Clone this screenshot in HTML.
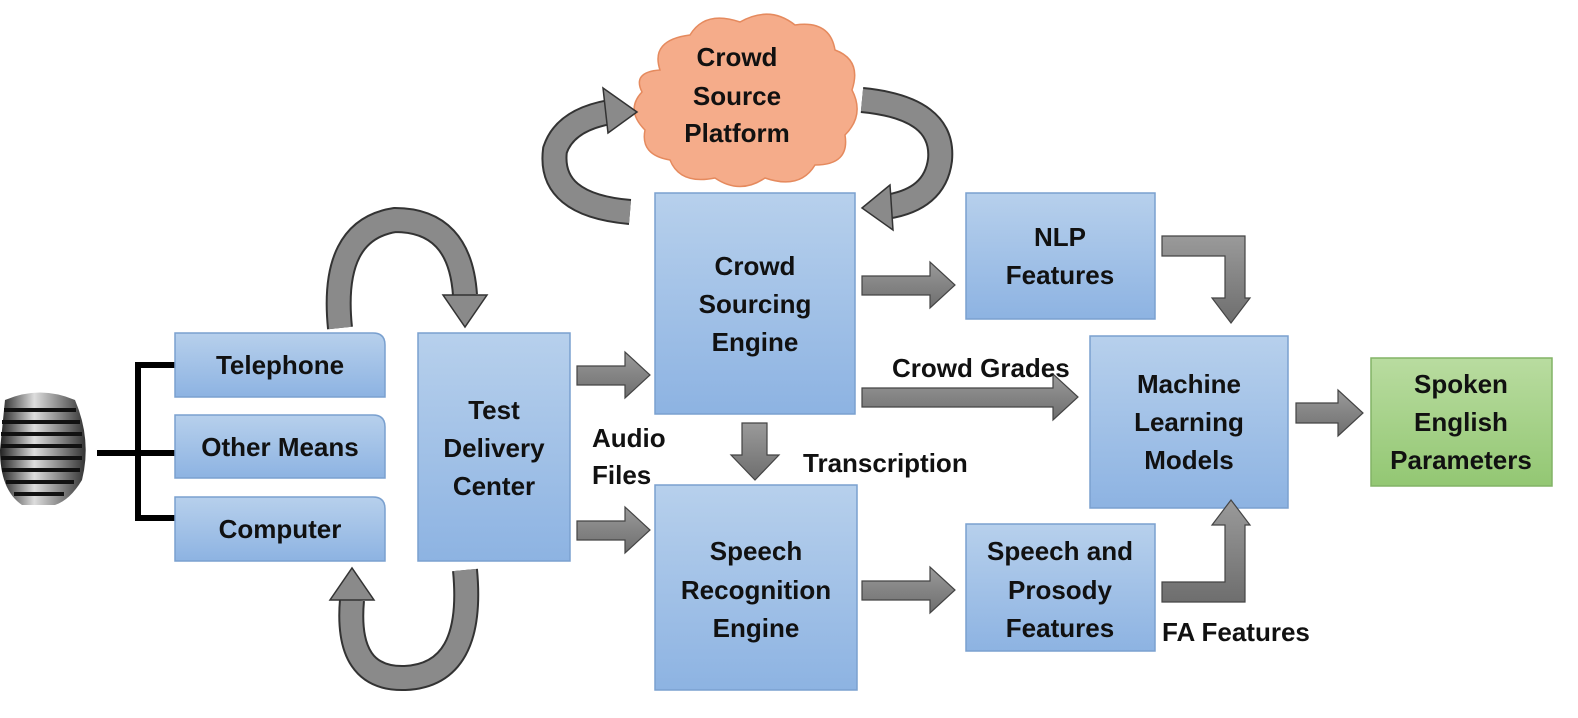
<!DOCTYPE html>
<html><head><meta charset="utf-8"><style>
body{margin:0;background:#fff;}
svg{display:block;}
text{font-family:"Liberation Sans",sans-serif;font-weight:bold;font-size:26px;fill:#111;}
</style></head><body>
<svg width="1578" height="718" viewBox="0 0 1578 718" xmlns="http://www.w3.org/2000/svg">
<defs>
<linearGradient id="bl" x1="0" y1="0" x2="0" y2="1"><stop offset="0" stop-color="#b7d0ec"/><stop offset="1" stop-color="#8db3e2"/></linearGradient>
<linearGradient id="gr" x1="0" y1="0" x2="0" y2="1"><stop offset="0" stop-color="#b9dca0"/><stop offset="1" stop-color="#93c773"/></linearGradient>
<linearGradient id="ar" x1="0" y1="0" x2="0" y2="1"><stop offset="0" stop-color="#9a9a9a"/><stop offset="1" stop-color="#6e6e6e"/></linearGradient>
<linearGradient id="mic" x1="0" y1="0" x2="1" y2="0"><stop offset="0" stop-color="#222"/><stop offset=".4" stop-color="#ddd"/><stop offset="1" stop-color="#333"/></linearGradient>
</defs>

<path d="M5 400 Q40 385 75 400 Q92 440 82 480 Q70 500 55 505 L22 505 Q0 490 0 450 Z" fill="url(#mic)"/>
<g stroke="#111" stroke-width="4">
<line x1="4" y1="410" x2="76" y2="410"/><line x1="2" y1="422" x2="80" y2="422"/><line x1="1" y1="434" x2="82" y2="434"/>
<line x1="1" y1="446" x2="82" y2="446"/><line x1="1" y1="458" x2="82" y2="458"/><line x1="2" y1="470" x2="80" y2="470"/>
<line x1="6" y1="482" x2="74" y2="482"/><line x1="14" y1="494" x2="64" y2="494"/></g>

<g stroke="#000" stroke-width="6" fill="none">
<line x1="97" y1="453" x2="178" y2="453"/>
<polyline points="178,365 138,365 138,518 178,518"/>
</g>

<g stroke="#7aa0cf" stroke-width="1.5" fill="url(#bl)">
<path d="M175 333 H373 Q385 333 385 345 V397 H175 Z"/>
<path d="M175 415 H373 Q385 415 385 427 V478 H175 Z"/>
<path d="M175 497 H373 Q385 497 385 509 V561 H175 Z"/>
<rect x="418" y="333" width="152" height="228"/>
<rect x="655" y="193" width="200" height="221"/>
<rect x="655" y="485" width="202" height="205"/>
<rect x="966" y="193" width="189" height="126"/>
<rect x="966" y="524" width="189" height="127"/>
<rect x="1090" y="336" width="198" height="172"/>
</g>
<rect x="1371" y="358" width="181" height="128" fill="url(#gr)" stroke="#82b366" stroke-width="1.5"/>

<path d="M660 70 Q650 40 690 35 Q705 10 740 22 Q770 5 795 25 Q830 20 835 50 Q862 60 852 90 Q865 115 845 135 Q850 165 815 165 Q800 190 765 178 Q740 195 715 178 Q680 185 670 160 Q640 155 645 130 Q625 110 642 92 Q632 72 660 70 Z" fill="#f5ac8a" stroke="#e58a5e" stroke-width="1.5"/>

<g fill="url(#ar)" stroke="#444" stroke-width="1.2">
<polygon points="577,366 625,366 625,352 650,375 625,398 625,385 577,385"/>
<polygon points="577,521 625,521 625,507 650,530 625,553 625,540 577,540"/>
<polygon points="862,276 930,276 930,262 955,285 930,308 930,295 862,295"/>
<polygon points="862,581 930,581 930,567 955,590 930,613 930,600 862,600"/>
<polygon points="862,388 1053,388 1053,374 1078,397 1053,420 1053,407 862,407"/>
<polygon points="1296,403 1338,403 1338,390 1363,413 1338,436 1338,423 1296,423"/>
<polygon points="742,423 767,423 767,455 779,455 755,480 731,455 742,455"/>
<polygon points="1162,236 1245,236 1245,298 1250,298 1231,323 1212,298 1225,298 1225,256 1162,256"/>
<polygon points="1162,602 1225,602 1225,545 1212,545 1231,520 1250,545 1245,545 1245,622 1162,622" transform="translate(0,-20)"/>
</g>

<g fill="none" stroke-linecap="butt">
<path d="M630 212 Q548 205 555 150 Q565 120 610 112" stroke="#333" stroke-width="26"/>
<path d="M630 212 Q548 205 555 150 Q565 120 610 112" stroke="#8a8a8a" stroke-width="22"/>
<path d="M862 100 Q945 108 940 160 Q935 200 885 207" stroke="#333" stroke-width="26"/>
<path d="M862 100 Q945 108 940 160 Q935 200 885 207" stroke="#8a8a8a" stroke-width="22"/>
<path d="M340 328 Q330 230 395 220 Q460 220 465 295" stroke="#333" stroke-width="26"/>
<path d="M340 328 Q330 230 395 220 Q460 220 465 295" stroke="#8a8a8a" stroke-width="22"/>
<path d="M465 570 Q475 675 405 678 Q345 680 352 600" stroke="#333" stroke-width="26"/>
<path d="M465 570 Q475 675 405 678 Q345 680 352 600" stroke="#8a8a8a" stroke-width="22"/>
</g>
<g fill="#8a8a8a" stroke="#333" stroke-width="1.5">
<polygon points="603,88 637,112 608,133"/>
<polygon points="890,185 862,208 893,230"/>
<polygon points="443,295 487,295 465,327"/>
<polygon points="330,600 374,600 352,568"/>
</g>

<g text-anchor="middle">
<text x="280" y="374">Telephone</text>
<text x="280" y="456">Other Means</text>
<text x="280" y="538">Computer</text>
<text x="494" y="419">Test</text><text x="494" y="457">Delivery</text><text x="494" y="495">Center</text>
<text x="737" y="66">Crowd</text><text x="737" y="105">Source</text><text x="737" y="142">Platform</text>
<text x="755" y="275">Crowd</text><text x="755" y="313">Sourcing</text><text x="755" y="351">Engine</text>
<text x="756" y="560">Speech</text><text x="756" y="599">Recognition</text><text x="756" y="637">Engine</text>
<text x="1060" y="246">NLP</text><text x="1060" y="284">Features</text>
<text x="1060" y="560">Speech and</text><text x="1060" y="599">Prosody</text><text x="1060" y="637">Features</text>
<text x="1189" y="393">Machine</text><text x="1189" y="431">Learning</text><text x="1189" y="469">Models</text>
<text x="1461" y="393">Spoken</text><text x="1461" y="431">English</text><text x="1461" y="469">Parameters</text>
</g>
<text x="592" y="447">Audio</text><text x="592" y="484">Files</text>
<text x="803" y="472">Transcription</text>
<text x="892" y="377">Crowd Grades</text>
<text x="1162" y="641">FA Features</text>
</svg>
</body></html>
